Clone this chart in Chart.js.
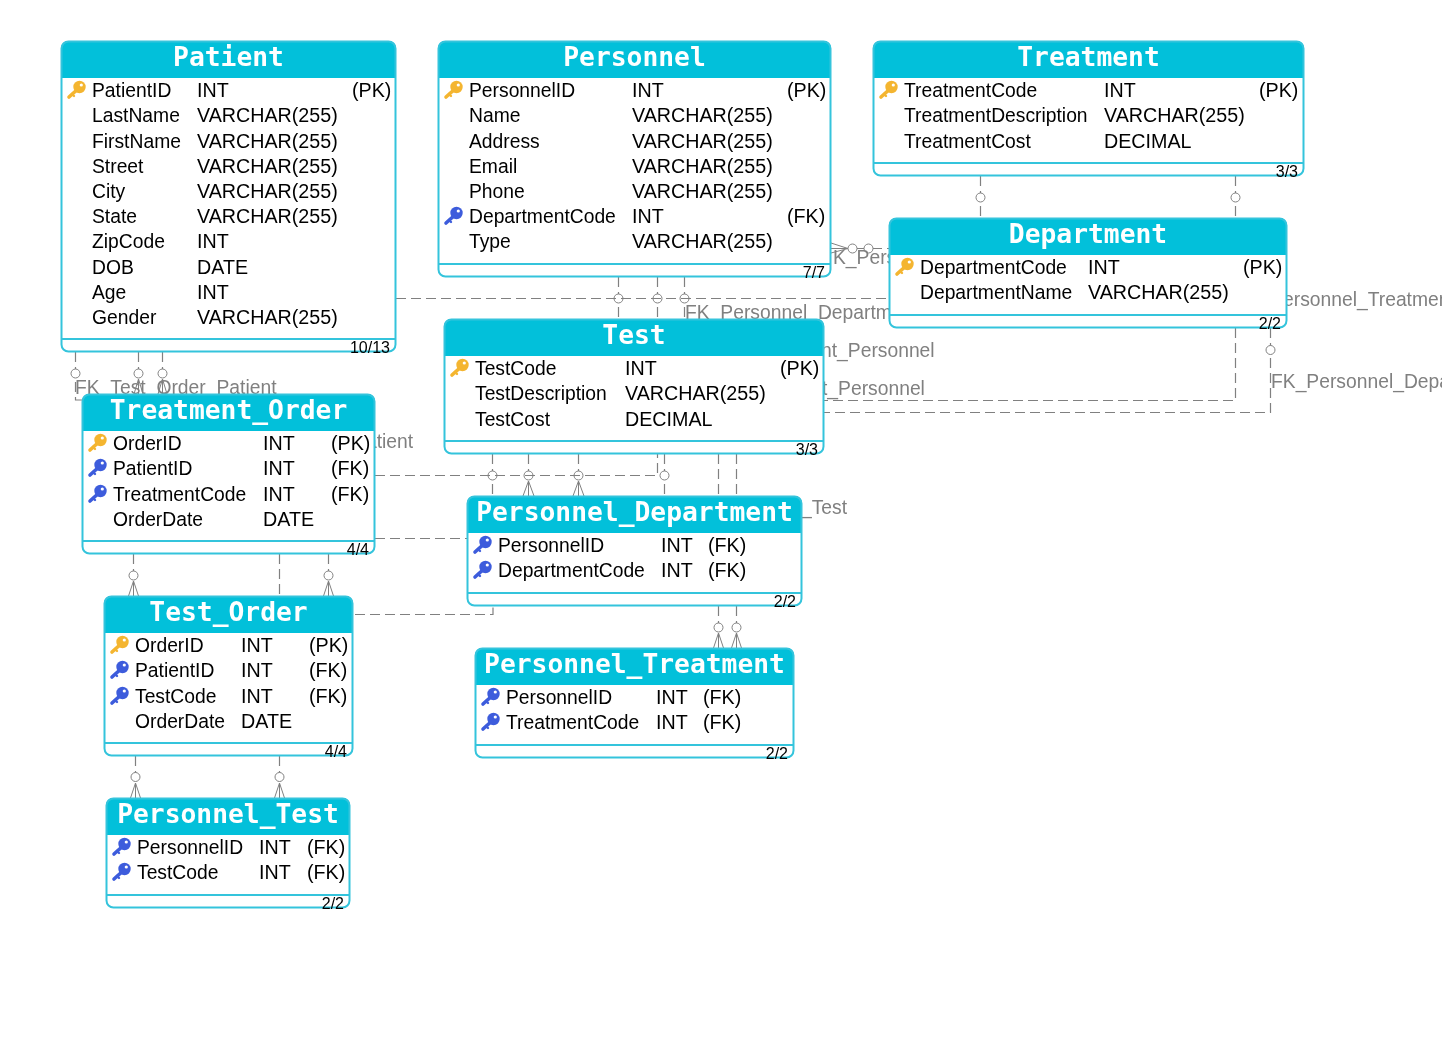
<!DOCTYPE html>
<html>
<head>
<meta charset="utf-8">
<title>ER diagram</title>
<script src="https://cdn.jsdelivr.net/npm/chart.js@4"></script>
<style>
html, body { margin: 0; padding: 0; background: #fff; }
canvas { display: block; }
</style>
</head>
<body>
<canvas id="er-chart" width="1442" height="1053"></canvas>
<script>
// table contents
const tableNames = ["Patient", "Personnel", "Treatment", "Department", "Test", "Treatment_Order",
    "Personnel_Department", "Test_Order", "Personnel_Treatment", "Personnel_Test"];
const columnNames = [
    ["PatientID", "LastName", "FirstName", "Street", "City", "State", "ZipCode", "DOB", "Age", "Gender"],
    ["PersonnelID", "Name", "Address", "Email", "Phone", "DepartmentCode", "Type"],
    ["TreatmentCode", "TreatmentDescription", "TreatmentCost"],
    ["DepartmentCode", "DepartmentName"],
    ["TestCode", "TestDescription", "TestCost"],
    ["OrderID", "PatientID", "TreatmentCode", "OrderDate"],
    ["PersonnelID", "DepartmentCode"],
    ["OrderID", "PatientID", "TestCode", "OrderDate"],
    ["PersonnelID", "TreatmentCode"],
    ["PersonnelID", "TestCode"]
];
const columnTypes = [
    ["INT", "VARCHAR(255)", "VARCHAR(255)", "VARCHAR(255)", "VARCHAR(255)", "VARCHAR(255)", "INT", "DATE", "INT", "VARCHAR(255)"],
    ["INT", "VARCHAR(255)", "VARCHAR(255)", "VARCHAR(255)", "VARCHAR(255)", "INT", "VARCHAR(255)"],
    ["INT", "VARCHAR(255)", "DECIMAL"],
    ["INT", "VARCHAR(255)"],
    ["INT", "VARCHAR(255)", "DECIMAL"],
    ["INT", "INT", "INT", "DATE"],
    ["INT", "INT"],
    ["INT", "INT", "INT", "DATE"],
    ["INT", "INT"],
    ["INT", "INT"]
];
const columnKeys = [
    ["PK", "", "", "", "", "", "", "", "", ""],
    ["PK", "", "", "", "", "FK", ""],
    ["PK", "", ""],
    ["PK", ""],
    ["PK", "", ""],
    ["PK", "FK", "FK", ""],
    ["FK", "FK"],
    ["PK", "FK", "FK", ""],
    ["FK", "FK"],
    ["FK", "FK"]
];
const columnCounts = ["10/13", "7/7", "3/3", "2/2", "3/3", "4/4", "2/2", "4/4", "2/2", "2/2"];
const relationLabels = ["FK_Test_Order_Patient", "atient", "K_Pers", "FK_Personnel_Departm", "nt_Personnel",
    "t_Personnel", "ersonnel_Treatmen", "FK_Personnel_Depa", "_Test"];

// layout, in the units of the two axes
const boxes = [
    { left: 61, right: 396, top: 41, bottom: 352, colType: 197, colKey: 352 },
    { left: 438, right: 831, top: 41, bottom: 277, colType: 632, colKey: 787 },
    { left: 873, right: 1304, top: 41, bottom: 176, colType: 1104, colKey: 1259 },
    { left: 889, right: 1287, top: 218, bottom: 328, colType: 1088, colKey: 1243 },
    { left: 444, right: 824, top: 319, bottom: 454, colType: 625, colKey: 780 },
    { left: 82, right: 375, top: 394, bottom: 554, colType: 263, colKey: 331 },
    { left: 467, right: 802, top: 496, bottom: 606, colType: 661, colKey: 708 },
    { left: 104, right: 353, top: 596, bottom: 756, colType: 241, colKey: 309 },
    { left: 475, right: 794, top: 648, bottom: 758, colType: 656, colKey: 703 },
    { left: 106, right: 350, top: 798, bottom: 908, colType: 259, colKey: 307 }
];
const labelSpots = [[75, 388.5], [366, 442.5], [833, 259], [685, 314], [821, 351.5], [822, 389.5], [1283, 301], [1271, 382.5], [801, 509]];

// these two run over the circles they cross
const overLinks = [
    [[396, 298.5], [889, 298.5]],
    [[375, 475.5], [657.5, 475.5], [657.5, 454]]
];
const dashedPaths = [
    [[618.5, 277], [618.5, 319]],
    [[657.5, 277], [657.5, 319]],
    [[684.5, 277], [684.5, 319]],
    [[1235.5, 328], [1235.5, 400.5], [824, 400.5]],
    [[1270.5, 328], [1270.5, 412.5], [824, 412.5]],
    [[75.5, 352], [75.5, 400], [82, 400]],
    [[138.5, 352], [138.5, 380]],
    [[162.5, 352], [162.5, 380]],
    [[980.5, 176], [980.5, 218]],
    [[1235.5, 176], [1235.5, 218]],
    [[492.5, 454], [492.5, 496]],
    [[528.5, 454], [528.5, 482]],
    [[578.5, 454], [578.5, 482]],
    [[664.5, 454], [664.5, 496]],
    [[718.5, 454], [718.5, 496]],
    [[736.5, 454], [736.5, 496]],
    [[375, 538.5], [467, 538.5]],
    [[355, 614.5], [493, 614.5], [493, 606]],
    [[133.5, 554], [133.5, 582]],
    [[279.5, 554], [279.5, 596]],
    [[328.5, 554], [328.5, 582]],
    [[135.5, 756], [135.5, 784]],
    [[279.5, 756], [279.5, 784]],
    [[718.5, 606], [718.5, 634]],
    [[736.5, 606], [736.5, 634]],
    [[857, 248.5], [889, 248.5]]
];
const openCircles = [[618.5, 298.5], [657.5, 298.5], [684.5, 298.5], [492.5, 475.5], [980.5, 197.5], [1235.5, 197.5], [1270.5, 350],
    [75.5, 373.5], [138.5, 373.5], [162.5, 373.5], [528.5, 475.5], [578.5, 475.5], [664.5, 475.5],
    [133.5, 575.5], [328.5, 575.5], [135.5, 777], [279.5, 777], [718.5, 627.5], [736.5, 627.5], [852.5, 248.5], [868.5, 248.5]];
// crow's feet: tip, then the two outer toes on the table edge
const crowFeet = [
    [[138.5, 379], [134, 394], [143, 394]],
    [[162.5, 379], [158, 394], [167, 394]],
    [[528.5, 481], [523, 496], [534, 496]],
    [[578.5, 481], [573, 496], [584, 496]],
    [[133.5, 581], [128.5, 596], [138.5, 596]],
    [[328.5, 581], [323.5, 596], [333.5, 596]],
    [[135.5, 783], [130.5, 798], [140.5, 798]],
    [[279.5, 783], [274.5, 798], [284.5, 798]],
    [[718.5, 633], [713.5, 648], [723.5, 648]],
    [[736.5, 633], [731.5, 648], [741.5, 648]]
];

const HEADER = "#02c0da", EDGE = "#34c4dc", LINK = "#808080";
const ROW_H = 25.2;

function toPoints(list) {
    return list.map(p => ({ x: p[0], y: p[1] }));
}

function solidLine(points) {
    return { type: "line", data: toPoints(points), borderColor: LINK, borderWidth: 1, pointRadius: 0, fill: false, tension: 0 };
}

function dashedLine(points) {
    return {
        type: "line", data: toPoints(points), borderColor: LINK, borderWidth: 1.2, borderDash: [10, 5],
        pointRadius: 0, fill: false, tension: 0
    };
}

const footDatasets = [];
crowFeet.forEach(f => {
    footDatasets.push(solidLine([f[1], f[0], f[2]]));
    footDatasets.push(solidLine([f[0], [f[0][0], f[1][1]]]));
});
footDatasets.push(solidLine([[831, 243], [848, 248.5], [831, 253]]));
footDatasets.push(solidLine([[831, 248.5], [848, 248.5]]));

const circleDataset = {
    type: "scatter", data: toPoints(openCircles), pointRadius: 4.5, pointBorderWidth: 1,
    pointBorderColor: LINK, pointBackgroundColor: "#fff", showLine: false
};

function drawKey(ctx, cx, cy, color) {
    ctx.save();
    ctx.strokeStyle = color;
    ctx.fillStyle = color;
    ctx.lineWidth = 3.6;
    ctx.lineCap = "round";
    ctx.beginPath();
    ctx.moveTo(cx + 3, cy - 2);
    ctx.lineTo(cx - 7, cy + 7);
    ctx.stroke();
    ctx.lineWidth = 2.4;
    ctx.beginPath();
    ctx.moveTo(cx - 4, cy + 4);
    ctx.lineTo(cx - 2, cy + 6);
    ctx.stroke();
    ctx.beginPath();
    ctx.arc(cx + 3.5, cy - 3, 6.2, 0, Math.PI * 2);
    ctx.fill();
    ctx.fillStyle = "#fff";
    ctx.beginPath();
    ctx.arc(cx + 5.3, cy - 5, 1.6, 0, Math.PI * 2);
    ctx.fill();
    ctx.restore();
}

function drawLabels(ctx, sx, sy) {
    ctx.fillStyle = LINK;
    ctx.font = "19.3px 'Liberation Sans'";
    ctx.textAlign = "left";
    ctx.textBaseline = "middle";
    relationLabels.forEach((text, i) => {
        ctx.fillText(text, sx(labelSpots[i][0]), sy(labelSpots[i][1]));
    });
}

function drawTable(ctx, sx, sy, t) {
    const b = boxes[t];
    const l = sx(b.left), r = sx(b.right), top = sy(b.top), bot = sy(b.bottom);
    const headBottom = sy(b.top + 37), footLine = sy(b.bottom - 13);
    const nameX = sx(b.left + 31);

    ctx.beginPath();
    ctx.roundRect(l, top, r - l, bot - top, 7);
    ctx.fillStyle = "#fff";
    ctx.fill();

    ctx.save();
    ctx.beginPath();
    ctx.roundRect(l, top, r - l, bot - top, 7);
    ctx.clip();
    ctx.fillStyle = HEADER;
    ctx.fillRect(l, top, r - l, headBottom - top);
    ctx.restore();

    ctx.strokeStyle = EDGE;
    ctx.lineWidth = 2;
    ctx.beginPath();
    ctx.roundRect(l + 0.5, top + 0.5, r - l - 1, bot - top - 1, 7);
    ctx.stroke();
    ctx.beginPath();
    ctx.moveTo(l, footLine);
    ctx.lineTo(r, footLine);
    ctx.stroke();

    ctx.fillStyle = "#fff";
    ctx.font = "bold 26.3px 'DejaVu Sans Mono'";
    ctx.textAlign = "center";
    ctx.textBaseline = "middle";
    ctx.fillText(tableNames[t], (l + r) / 2, sy(b.top + 18.5));

    // one shared baseline per row, so names and types line up
    ctx.textAlign = "left";
    ctx.textBaseline = "alphabetic";
    columnNames[t].forEach((name, i) => {
        const base = Math.round(sy(b.top + 56.1 + ROW_H * i));
        const key = columnKeys[t][i];
        ctx.fillStyle = "#000";
        ctx.font = "19.3px 'Liberation Sans'";
        ctx.fillText(name, nameX, base);
        ctx.font = "19.7px 'Liberation Sans'";
        ctx.fillText(columnTypes[t][i], sx(b.colType), base);
        if (key) {
            ctx.fillText("(" + key + ")", sx(b.colKey), base);
            drawKey(ctx, sx(b.left + 15), base - 7, key === "PK" ? "#f4b530" : "#3d5cdc");
        }
    });

    ctx.fillStyle = "#000";
    ctx.font = "16px 'Liberation Sans'";
    ctx.textAlign = "right";
    ctx.textBaseline = "middle";
    ctx.fillText(columnCounts[t], sx(b.right - 6), sy(b.bottom - 3.5));
}

const tablePlugin = {
    id: "tables",
    afterDatasetsDraw(chart) {
        const ctx = chart.ctx;
        const sx = v => chart.scales.x.getPixelForValue(v);
        const sy = v => chart.scales.y.getPixelForValue(v);
        ctx.save();
        drawLabels(ctx, sx, sy);
        tableNames.forEach((name, t) => drawTable(ctx, sx, sy, t));
        ctx.restore();
    }
};

// Chart.js paints the first dataset last, so the top layers come first
new Chart(document.getElementById("er-chart"), {
    type: "scatter",
    data: { datasets: overLinks.map(dashedLine).concat([circleDataset], footDatasets, dashedPaths.map(dashedLine)) },
    options: {
        responsive: false,
        animation: false,
        devicePixelRatio: 1,
        events: [],
        layout: { padding: 0, autoPadding: false },
        scales: {
            x: { type: "linear", min: 0, max: 1442, display: false },
            y: { type: "linear", min: 0, max: 1053, reverse: true, display: false }
        },
        plugins: { legend: { display: false }, tooltip: { enabled: false }, title: { display: false } }
    },
    plugins: [tablePlugin]
});
</script>
</body>
</html>
